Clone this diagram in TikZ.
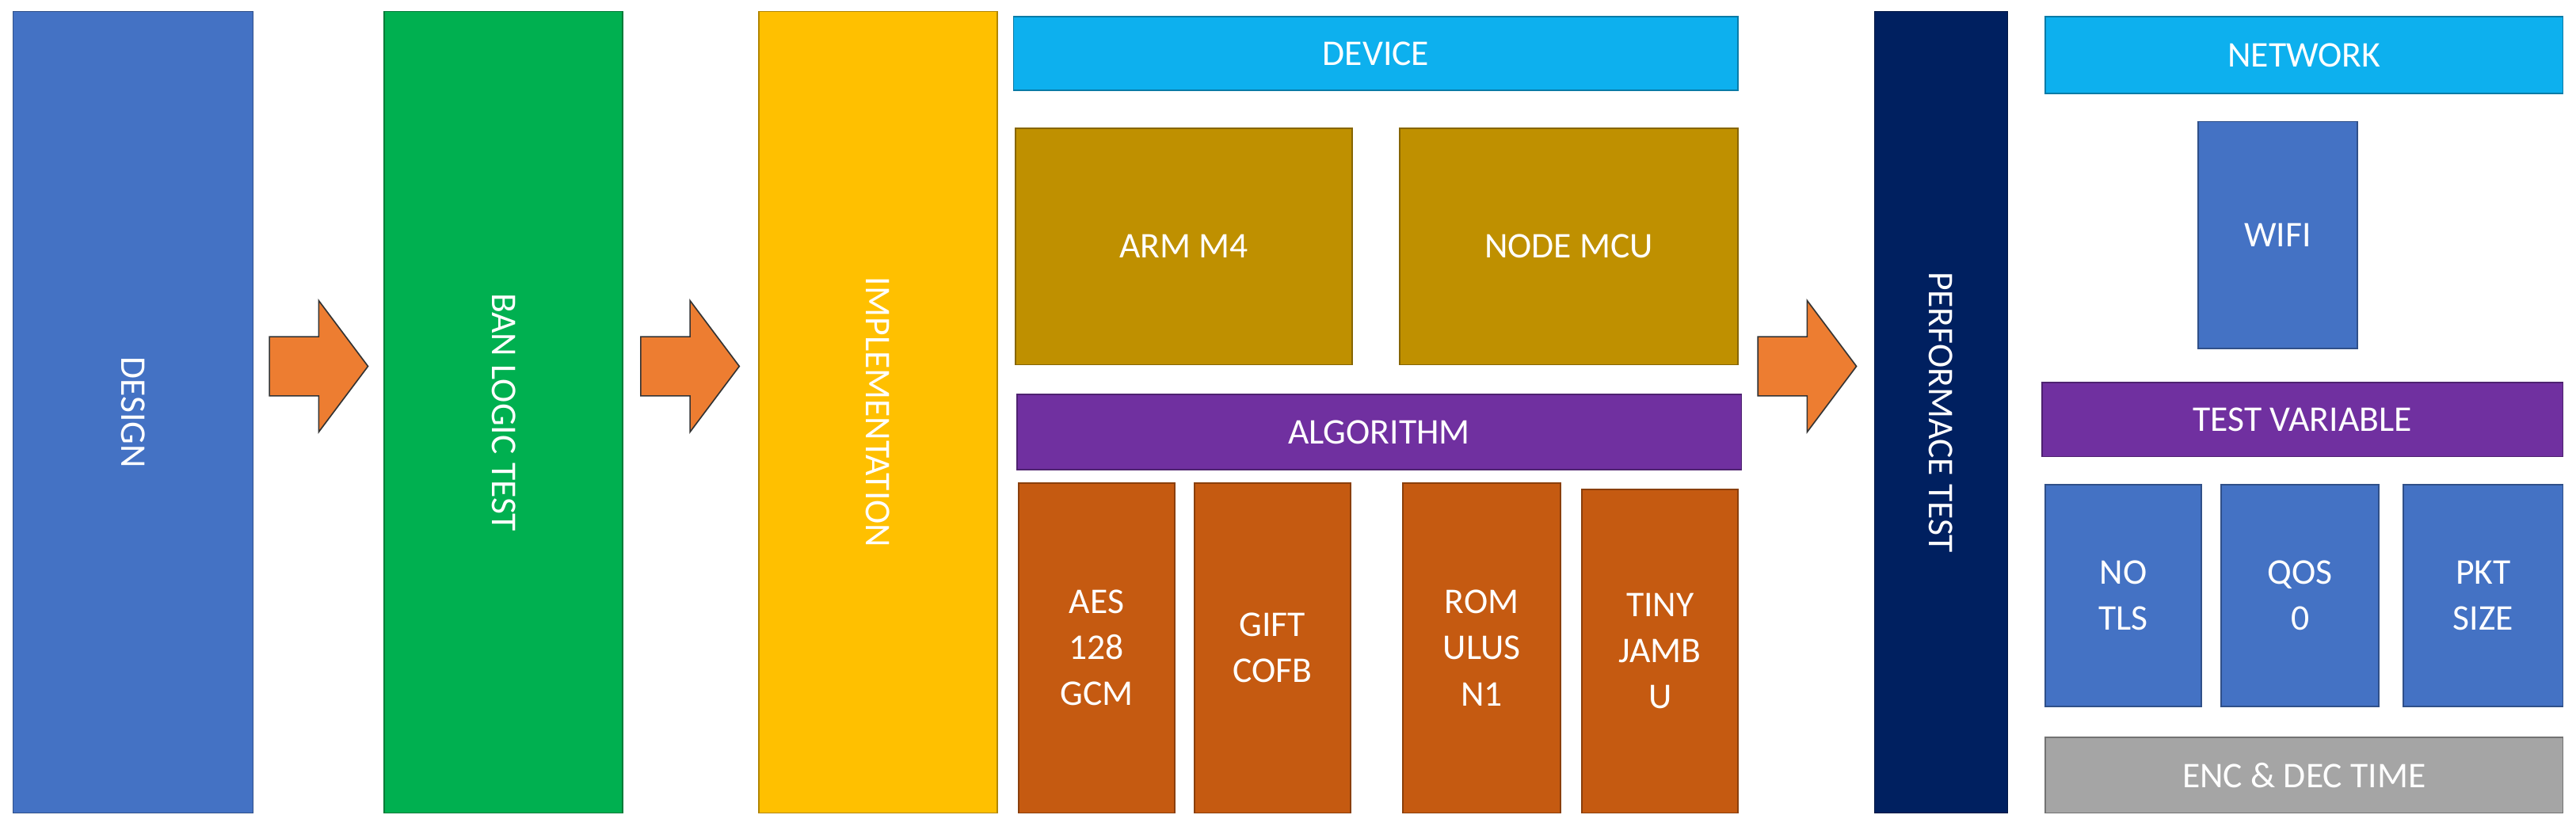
\documentclass[tikz,border=0pt]{standalone}
\usepackage{fontspec}
\setmainfont{Carlito}
\begin{document}
\begin{tikzpicture}[x=1pt,y=-1pt,
  box/.style={draw=#1!70!black,line width=0.8pt,text=white,align=center,inner sep=0pt,font=\fontsize{22}{27}\selectfont},
  arr/.style={fill=arrow,draw=black!80,line width=0.8pt}]
\definecolor{blu}{HTML}{4472C4}\definecolor{grn}{HTML}{00B050}\definecolor{yel}{HTML}{FFC000}
\definecolor{cyn}{HTML}{0DB0EE}\definecolor{gld}{HTML}{BF9000}\definecolor{pur}{HTML}{7030A0}
\definecolor{org}{HTML}{C55A11}\definecolor{nav}{HTML}{002060}\definecolor{gry}{HTML}{A5A5A5}
\definecolor{arrow}{HTML}{ED7D31}
\useasboundingbox (0,0) rectangle (1568,505);
\newcommand\bx[7][]{\node[box=#7,fill=#7,minimum width={(#4-#2)*1pt},minimum height={(#5-#3)*1pt},#1] (#6) at ({(#2+#4)/2},{(#3+#5)/2}) {};}
\bx{8}{7}{154}{495}{design}{blu}
\bx{234}{7}{379}{495}{ban}{grn}
\bx{462}{7}{607}{495}{impl}{yel}
\bx{617}{10}{1058}{55}{device}{cyn}
\bx{618}{78}{823}{222}{arm}{gld}
\bx{852}{78}{1058}{222}{nodemcu}{gld}
\bx{619}{240}{1060}{286}{algo}{pur}
\bx{620}{294}{715}{495}{aes}{org}
\bx{727}{294}{822}{495}{gift}{org}
\bx{854}{294}{950}{495}{rom}{org}
\bx{963}{298}{1058}{495}{tiny}{org}
\bx{1141}{7}{1222}{495}{perf}{nav}
\bx{1245}{10}{1560}{57}{net}{cyn}
\bx{1338}{74}{1435}{212}{wifi}{blu}
\bx{1243}{233}{1560}{278}{tv}{pur}
\bx{1245}{295}{1340}{430}{notls}{blu}
\bx{1352}{295}{1448}{430}{qos}{blu}
\bx{1463}{295}{1560}{430}{pkt}{blu}
\bx{1245}{449}{1560}{495}{enc}{gry}
\tikzset{lbl/.style={text=white,align=center,font=\fontsize{22}{28}\selectfont}}
\node[lbl,rotate=-90] at (design) {DESIGN};
\node[lbl,rotate=-90] at (ban) {BAN LOGIC TEST};
\node[lbl,rotate=-90] at (impl) {IMPLEMENTATION};
\node[lbl,rotate=-90] at (perf) {PERFORMACE TEST};
\node[lbl] at (device) {DEVICE};
\node[lbl] at (arm) {ARM M4};
\node[lbl] at (nodemcu) {NODE MCU};
\node[lbl] at (algo) {ALGORITHM};
\node[lbl] at (aes) {AES\\128\\GCM};
\node[lbl] at (gift) {GIFT\\COFB};
\node[lbl] at (rom) {ROM\\ULUS\\N1};
\node[lbl] at (tiny) {TINY\\JAMB\\U};
\node[lbl] at (net) {NETWORK};
\node[lbl] at (wifi) {WIFI};
\node[lbl] at (tv) {TEST VARIABLE};
\node[lbl] at (notls) {NO\\TLS};
\node[lbl] at (qos) {QOS\\0};
\node[lbl] at (pkt) {PKT\\SIZE};
\node[lbl] at (enc) {ENC \& DEC TIME};
\foreach \a in {164,390,1070}{
 \draw[arr] (\a,205) -- (\a+30,205) -- (\a+30,183) -- (\a+60,223) -- (\a+30,263) -- (\a+30,241) -- (\a,241) -- cycle;}
\end{tikzpicture}
\end{document}
